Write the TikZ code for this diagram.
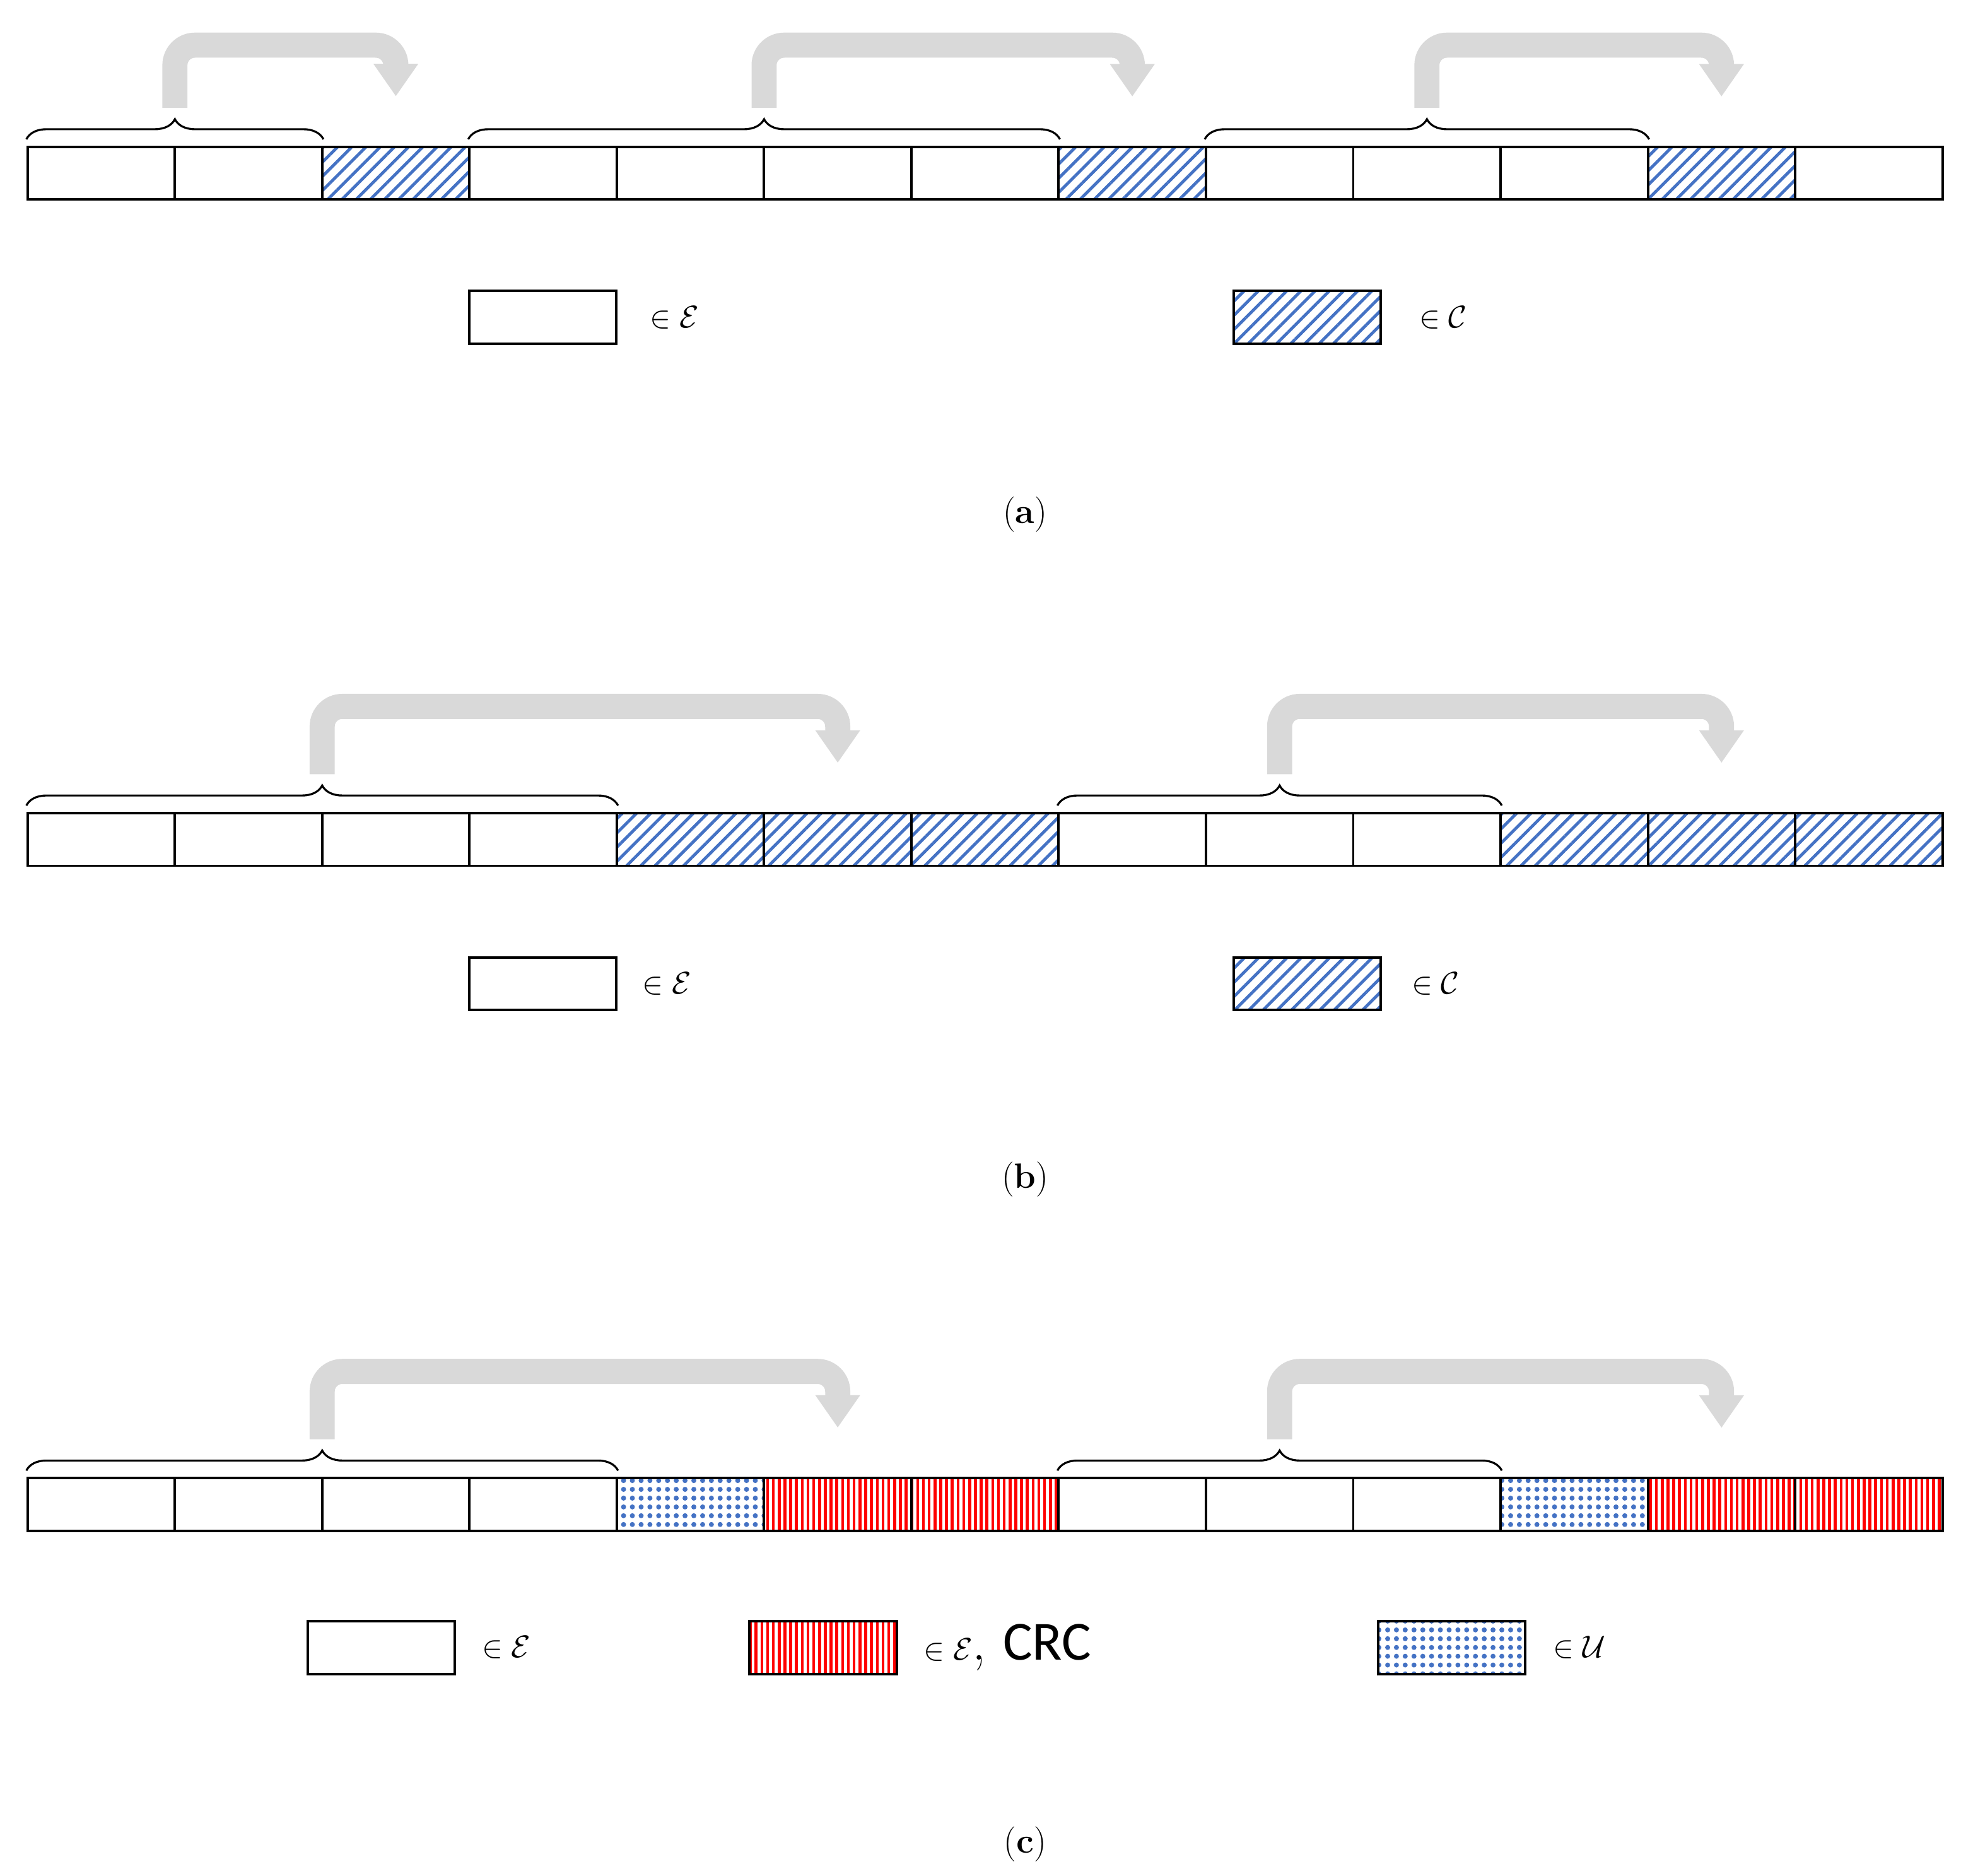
\documentclass[tikz,border=0pt]{standalone}
\usepackage{fontspec}
\newfontfamily\crcfont{Carlito}
\usetikzlibrary{patterns.meta,decorations.pathreplacing,arrows.meta,calc}
\definecolor{hblue}{HTML}{4472C4}
\definecolor{gar}{HTML}{D9D9D9}
\tikzset{
 cell/.style={draw=black,line width=2pt,minimum width=117.4pt,minimum height=42pt,inner sep=0pt,anchor=center},
 cw/.style={fill=white},
 ch/.style={pattern={Lines[angle=45,distance=8pt,line width=2.4pt]},pattern color=hblue},
 cr/.style={pattern={Lines[angle=90,distance=4.6pt,line width=2.3pt]},pattern color=red},
 cd/.style={pattern={Dots[radius=2pt,distance=7pt]},pattern color=hblue},
 br/.style={decorate,decoration={brace,amplitude=16pt},line width=1.6pt},
 garrow/.style={draw=gar,line width=20pt,rounded corners=16pt,-{Triangle[width=34pt 0,length=26pt 0]}},
 lab/.style={anchor=west,inner sep=0pt,font=\fontsize{44}{50}\selectfont},
 captext/.style={font=\fontsize{28}{32}\selectfont}
}
\begin{document}
\begin{tikzpicture}[x=1pt,y=-1pt]
\useasboundingbox (0,0) rectangle (1563,1495);
\foreach \t [count=\i from 0] in {cw,cw,ch,cw,cw,cw,cw,ch,cw,cw,cw,ch,cw}
  \node[cell,\t] (a\i) at ({22+(\i+0.5)*117.4},138) {};
\foreach \t [count=\i from 0] in {cw,cw,cw,cw,ch,ch,ch,cw,cw,cw,ch,ch,ch}
  \node[cell,\t] (b\i) at ({22+(\i+0.5)*117.4},669) {};
\foreach \t [count=\i from 0] in {cw,cw,cw,cw,cd,cr,cr,cw,cw,cw,cd,cr,cr}
  \node[cell,\t] (c\i) at ({22+(\i+0.5)*117.4},1199) {};
\newcommand{\grp}[5]{%
  \draw[br] ([yshift=5pt]#1#2.north west) -- ([yshift=5pt]#1#3.north east);
  \coordinate (t#1#2) at ($(#1#2.north west)!0.5!(#1#3.north east)+(0,-30)$);
  \draw[garrow] (t#1#2) -- (t#1#2 |- 0,#5) -- (#1#4.north |- 0,#5) -- ([yshift=39pt]#1#4.north);
}
\grp{a}{0}{1}{2}{36}
\grp{a}{3}{6}{7}{36}
\grp{a}{8}{10}{11}{36}
\grp{b}{0}{3}{5}{563}
\grp{b}{7}{9}{11}{563}
\grp{c}{0}{3}{5}{1093}
\grp{c}{7}{9}{11}{1093}
\node[cell,cw] (la1) at (432.5,253) {};
\node[lab] (la1t) at (518,253) {$\in \mathcal{E}$};
\node[cell,ch] (la2) at (1042,253) {};
\node[lab] (la2t) at (1131,253) {$\in \mathcal{C}$};
\node[captext] (capa) at (817,410) {(\textbf{a})};
\node[cell,cw] (lb1) at (432.5,784) {};
\node[lab] (lb1t) at (512,784) {$\in \mathcal{E}$};
\node[cell,ch] (lb2) at (1042,784) {};
\node[lab] (lb2t) at (1125,784) {$\in \mathcal{C}$};
\node[captext] (capb) at (817,940) {(\textbf{b})};
\node[cell,cw] (lc1) at (304,1313) {};
\node[lab] (lc1t) at (384,1313) {$\in \mathcal{E}$};
\node[cell,cr] (lc2) at (656,1313) {};
\node[lab] (lc2t) at (736,1313) {$\in \mathcal{E}$, {\crcfont CRC}};
\node[cell,cd] (lc3) at (1157,1313) {};
\node[lab] (lc3t) at (1238,1313) {$\in \mathcal{U}$};
\node[captext] (capc) at (817,1470) {(\textbf{c})};
\end{tikzpicture}
\end{document}
